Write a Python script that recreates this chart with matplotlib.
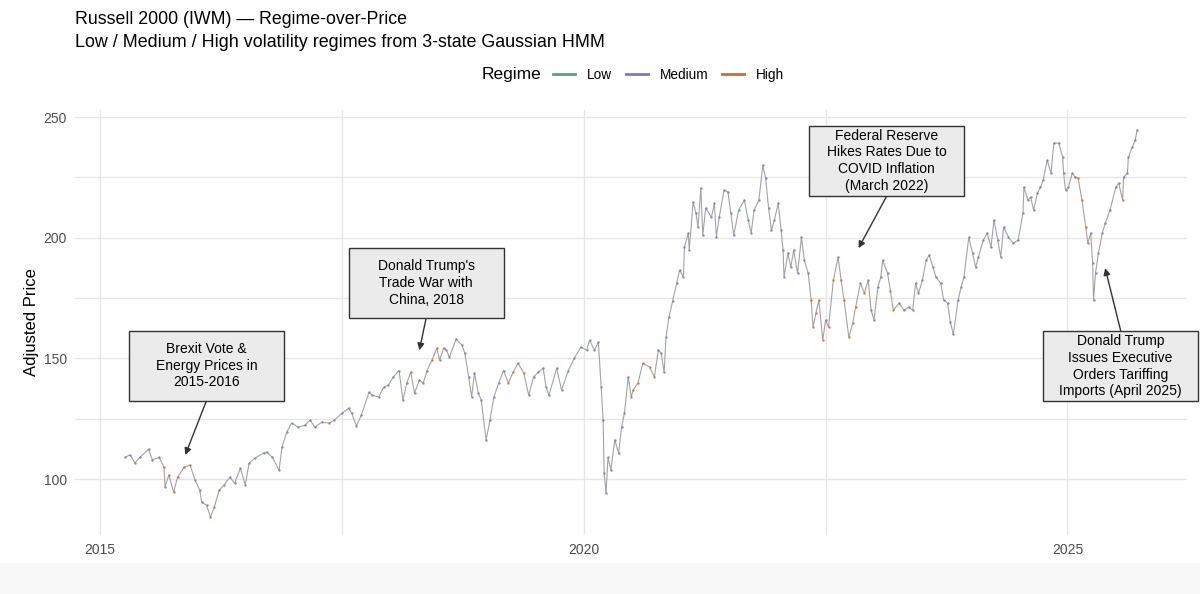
import matplotlib.pyplot as plt
from matplotlib.lines import Line2D
from matplotlib.patches import Rectangle

plt.rcParams['font.family'] = ['Liberation Sans', 'DejaVu Sans']

# price (decimal year, adjusted close) + HMM regime per point
years = [2015.26, 2015.31, 2015.36, 2015.41, 2015.50, 2015.54, 2015.61, 2015.66, 2015.67, 2015.71,
         2015.76, 2015.80, 2015.87, 2015.93, 2015.98, 2016.03, 2016.05, 2016.10, 2016.14, 2016.18,
         2016.23, 2016.28, 2016.34, 2016.39, 2016.45, 2016.50, 2016.54, 2016.60, 2016.69, 2016.72,
         2016.78, 2016.85, 2016.88, 2016.93, 2016.98, 2017.05, 2017.12, 2017.17, 2017.22, 2017.29,
         2017.37, 2017.42, 2017.50, 2017.57, 2017.60, 2017.65, 2017.70, 2017.78, 2017.81, 2017.88,
         2017.93, 2017.98, 2018.03, 2018.09, 2018.13, 2018.17, 2018.21, 2018.25, 2018.30, 2018.34,
         2018.38, 2018.43, 2018.48, 2018.51, 2018.55, 2018.58, 2018.61, 2018.68, 2018.74, 2018.77,
         2018.81, 2018.84, 2018.87, 2018.91, 2018.94, 2018.99, 2019.03, 2019.07, 2019.12, 2019.17,
         2019.22, 2019.27, 2019.32, 2019.38, 2019.43, 2019.48, 2019.53, 2019.58, 2019.61, 2019.64,
         2019.72, 2019.77, 2019.84, 2019.90, 2019.97, 2020.03, 2020.06, 2020.11, 2020.15, 2020.18,
         2020.20, 2020.21, 2020.23, 2020.25, 2020.28, 2020.32, 2020.36, 2020.39, 2020.42, 2020.46,
         2020.49, 2020.51, 2020.56, 2020.61, 2020.68, 2020.73, 2020.77, 2020.80, 2020.83, 2020.85,
         2020.88, 2020.92, 2020.96, 2020.99, 2021.03, 2021.04, 2021.08, 2021.09, 2021.13, 2021.16,
         2021.18, 2021.21, 2021.23, 2021.26, 2021.32, 2021.35, 2021.37, 2021.40, 2021.45, 2021.49,
         2021.52, 2021.55, 2021.60, 2021.66, 2021.70, 2021.73, 2021.76, 2021.81, 2021.85, 2021.88,
         2021.91, 2021.94, 2021.97, 2022.01, 2022.04, 2022.06, 2022.07, 2022.11, 2022.14, 2022.17,
         2022.21, 2022.25, 2022.28, 2022.32, 2022.35, 2022.37, 2022.40, 2022.43, 2022.47, 2022.50,
         2022.53, 2022.58, 2022.63, 2022.66, 2022.69, 2022.74, 2022.78, 2022.81, 2022.86, 2022.90,
         2022.94, 2022.97, 2023.00, 2023.04, 2023.07, 2023.09, 2023.14, 2023.17, 2023.20, 2023.26,
         2023.31, 2023.36, 2023.40, 2023.43, 2023.46, 2023.50, 2023.54, 2023.57, 2023.61, 2023.64,
         2023.69, 2023.72, 2023.76, 2023.79, 2023.82, 2023.87, 2023.90, 2023.93, 2023.98, 2024.02,
         2024.05, 2024.08, 2024.13, 2024.17, 2024.21, 2024.24, 2024.28, 2024.31, 2024.34, 2024.39,
         2024.44, 2024.49, 2024.54, 2024.55, 2024.59, 2024.62, 2024.65, 2024.69, 2024.72, 2024.75,
         2024.79, 2024.83, 2024.86, 2024.91, 2024.95, 2024.96, 2024.98, 2025.01, 2025.05, 2025.08,
         2025.11, 2025.15, 2025.19, 2025.21, 2025.24, 2025.26, 2025.27, 2025.29, 2025.32, 2025.36,
         2025.39, 2025.44, 2025.50, 2025.53, 2025.57, 2025.58, 2025.62, 2025.63, 2025.67, 2025.70,
         2025.72]
prices = [109.1, 110.0, 106.6, 109.0, 112.4, 108.0, 109.0, 105.0, 96.7, 101.7,
          94.6, 100.8, 105.0, 105.8, 99.6, 95.4, 90.5, 89.2, 84.3, 88.4,
          95.4, 97.5, 100.8, 98.3, 104.5, 97.5, 106.6, 108.7, 110.8, 111.2,
          109.0, 103.7, 113.3, 119.5, 123.2, 121.5, 122.4, 124.4, 121.5, 123.6,
          123.2, 124.4, 127.3, 129.4, 127.3, 122.0, 126.5, 136.0, 134.8, 134.0,
          138.0, 139.0, 142.3, 145.0, 132.7, 139.8, 144.3, 135.6, 141.0, 139.8,
          145.0, 149.3, 154.3, 149.3, 154.3, 153.4, 150.5, 158.0, 155.5, 152.2,
          142.3, 134.0, 143.9, 135.6, 132.7, 116.2, 124.4, 134.0, 139.8, 145.0,
          139.8, 144.3, 148.0, 143.9, 134.8, 142.3, 144.3, 146.0, 138.0, 134.8,
          146.0, 136.9, 145.0, 150.0, 154.7, 153.4, 157.6, 153.4, 156.8, 138.0,
          124.4, 102.5, 94.2, 109.0, 103.7, 116.2, 110.8, 121.5, 127.3, 142.3,
          134.0, 136.9, 139.8, 148.0, 146.4, 142.3, 153.4, 152.2, 144.3, 158.8,
          167.0, 174.0, 181.2, 186.6, 183.7, 196.0, 201.9, 194.9, 214.7, 210.2,
          204.4, 220.5, 201.0, 212.3, 208.5, 214.3, 200.2, 208.5, 219.7, 218.9,
          210.2, 201.0, 211.4, 215.6, 207.3, 201.9, 211.4, 215.6, 230.0, 224.7,
          212.3, 203.1, 207.3, 214.3, 203.1, 194.9, 183.7, 193.6, 187.8, 194.9,
          185.3, 200.2, 190.7, 185.3, 174.2, 163.0, 168.8, 174.2, 157.6, 165.9,
          163.0, 182.4, 192.0, 182.4, 174.2, 158.8, 164.6, 171.2, 181.2, 177.0,
          182.4, 170.0, 165.9, 179.5, 183.7, 190.7, 185.3, 178.0, 170.0, 172.9,
          170.0, 171.2, 170.0, 181.2, 177.0, 182.4, 190.7, 192.8, 187.8, 183.7,
          181.2, 174.2, 172.9, 165.0, 160.0, 174.2, 179.5, 183.7, 200.2, 193.6,
          187.8, 192.0, 199.0, 201.9, 196.1, 207.3, 199.0, 192.0, 204.4, 200.2,
          197.8, 199.0, 210.2, 221.0, 215.6, 216.8, 211.4, 218.5, 221.0, 223.9,
          232.1, 226.8, 239.2, 239.2, 233.4, 226.8, 219.7, 221.0, 226.8, 225.1,
          224.7, 215.6, 204.4, 197.8, 201.9, 189.5, 174.2, 185.3, 193.6, 201.9,
          206.0, 211.4, 221.0, 222.6, 215.6, 225.1, 226.8, 233.4, 237.5, 240.4,
          244.6]
regimes = list("MMMMMMMHMHHHHHMMMHHHHMMMLMMLLMMMMMLLMMMMHMMMMMMMMMMMLLMHHMHMHHHHHMMMMMMMMMMMMMMM"
               "HHHHMMMMLMMMLLMLLMMMMMMMMMMMMMMHHHHHMMMLMMMMLMMMMMMMMMLMMMMMMMLMMMMMMMMMMMMMMML"
               "MMMMMHHHHHMHHMHHHHHMHMMMMMMMHHHMMMMMMMMMMMMMMMMLMLMMMMMMMMMMLMMMMMMMMMMMMMMMMMMM"
               "HHHHHMMMMMMMMMHHMMMMMM")

regime_names = ['Low', 'Medium', 'High']
regime_codes = ['L', 'M', 'H']
regime_colors = ['#5e9e84', '#7d78b8', '#cc6e35']

notes = ["Brexit Vote &\nEnergy Prices in\n2015-2016",
         "Donald Trump's\nTrade War with\nChina, 2018",
         "Federal Reserve\nHikes Rates Due to\nCOVID Inflation\n(March 2022)",
         "Donald Trump\nIssues Executive\nOrders Tariffing\nImports (April 2025)"]
note_center = [(2016.10, 147.0), (2018.37, 181.2), (2023.13, 231.9), (2025.55, 146.8)]
arrow_start = [(2016.10, 132.6), (2018.37, 166.7), (2023.13, 217.2), (2025.55, 161.5)]
arrow_end = [(2015.88, 110.0), (2018.30, 153.4), (2022.84, 195.7), (2025.39, 187.4)]

fig = plt.figure(figsize=(12, 5.94), dpi=100)
fig.patches.append(Rectangle((0, 0), 1, 0.052, transform=fig.transFigure,
                             facecolor='#f8f8f8', edgecolor='none', zorder=-5))
ax = fig.add_axes([0.0625, 0.100, 0.927, 0.715])

ax.plot(years, prices, color='#a3a3a3', lw=0.8, zorder=2)
for code, c in zip(regime_codes, regime_colors):
    xs = [x for x, r in zip(years, regimes) if r == code]
    ys = [y for y, r in zip(prices, regimes) if r == code]
    ax.scatter(xs, ys, s=3, color=c, alpha=0.85, linewidths=0, zorder=3)

for txt, (cx, cy), s, e in zip(notes, note_center, arrow_start, arrow_end):
    ax.add_patch(Rectangle((cx - 0.8, cy - 14.5), 1.6, 29, facecolor='#ebebeb',
                           edgecolor='#333333', lw=1.0, clip_on=False, zorder=5))
    ax.text(cx, cy, txt, ha='center', va='center', fontsize=10, linespacing=1.25,
            zorder=6, clip_on=False)
    ax.annotate('', xy=e, xytext=s,
                arrowprops=dict(arrowstyle='-|>', color='#333333', lw=1.0,
                                mutation_scale=10, shrinkA=0, shrinkB=0), zorder=4)

ax.set_xlim(2014.74, 2026.24)
ax.set_ylim(77, 253)
ax.set_xticks([2015, 2020, 2025])
ax.set_xticklabels(['2015', '2020', '2025'])
ax.set_xticks([2017.5, 2022.5], minor=True)
ax.set_yticks([100, 150, 200, 250])
ax.set_yticks([125, 175, 225], minor=True)
ax.grid(which='both', color='#e6e6e6', lw=1.0, zorder=0)
ax.set_axisbelow(True)
ax.tick_params(which='both', length=0, labelsize=10, labelcolor='#4d4d4d', pad=6)
for sp in ax.spines.values():
    sp.set_visible(False)
ax.set_ylabel('Adjusted Price', fontsize=12, labelpad=3)

fig.text(0.0625, 0.96, 'Russell 2000 (IWM) \u2014 Regime-over-Price', fontsize=12.8, va='baseline')
fig.text(0.0625, 0.921, 'Low / Medium / High volatility regimes from 3-state Gaussian HMM',
         fontsize=12.9, va='baseline')

fig.text(0.4017, 0.874, 'Regime', fontsize=12.5, va='center')
handles = [Line2D([], [], color=c, lw=2) for c in regime_colors]
fig.legend(handles, regime_names, loc='center left', bbox_to_anchor=(0.461, 0.874),
           ncol=3, frameon=False, fontsize=9.8, handlelength=1.6, handletextpad=0.9,
           columnspacing=1.0, borderpad=0, borderaxespad=0)

plt.savefig('out.png', dpi=100)
